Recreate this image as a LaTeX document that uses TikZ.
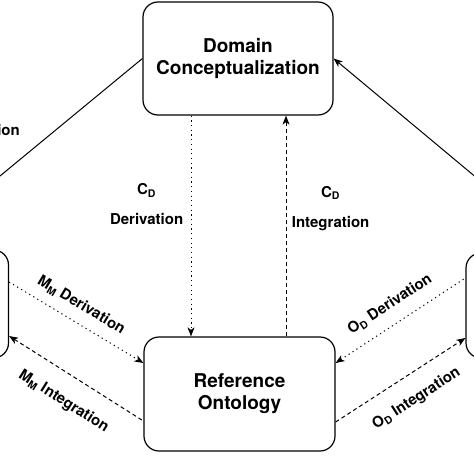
\documentclass[tikz,border=0pt]{standalone}
\usepackage{fontspec}
\setmainfont{TeX Gyre Heros}
\usetikzlibrary{arrows.meta}
\begin{document}
\begin{tikzpicture}[x=1pt,y=1pt,box/.style={draw,line width=1.2pt,rounded corners=15pt,
					align=center,font=\bfseries\fontsize{19}{22}\selectfont},lbl/.style={align=center,
					font=\bfseries\fontsize{15}{18}\selectfont},dots/.style={line width=1pt,
					dash pattern=on 1.2pt off 3.5pt},dashes/.style={line width=1pt,dash pattern=on 4pt off 3pt},
				tipr/.style={-{Stealth[length=9pt,width=7pt,inset=2.5pt]}},
				tipl/.style={{Stealth[length=9pt,width=7pt,inset=2.5pt]}-}]
		\useasboundingbox (0,0) rectangle (474,-474);
		\clip (0,0) rectangle (474,-474);
		\node[box,minimum width=190pt,minimum height=113pt] (dc) at (238,-58.5) {Domain\\Conceptualization};
		\node[box,minimum width=191pt,minimum height=114pt] (ro) at (239.5,-394) {Reference\\Ontology};
		\node[box,minimum width=190pt,minimum height=108pt] (mm) at (-86.5,-304) {};
		\node[box,minimum width=190pt,minimum height=105pt] (od) at (561,-305.5) {};
		\coordinate (tl) at (-40,-209);
		\coordinate (tr) at (514,-209);
		\node[lbl,anchor=base east,inner sep=0pt] (cut) at (20,-135) {ion};
		% top box
		\draw[line width=1pt] (dc.west) -- (tl);
		\draw[line width=1pt,tipr] (tr) -- (dc.east);
		\draw[dots,tipr] ([xshift=-47pt]dc.south) -- node[lbl,left=4pt,pos=0.4]
			{C\textsubscript{D}\\[12pt]Derivation} ([xshift=-48.5pt]ro.north);
		\draw[dashes,tipr] ([xshift=46.5pt]ro.north) -- node[lbl,right=2pt,pos=0.58]
			{C\textsubscript{D}\\[12pt]Integration} ([xshift=48pt]dc.south);
		% left box
		\draw[dots,tipr] ([yshift=22pt]mm.east) -- node[lbl,sloped,above=6.5pt,pos=0.47]
			{M\textsubscript{M} Derivation} ([yshift=31pt]ro.west);
		\draw[dashes,tipl] ([yshift=-32pt]mm.east) -- node[lbl,sloped,below=15pt,pos=0.51]
			{M\textsubscript{M} Integration} ([yshift=-27pt]ro.west);
		% right box
		\draw[dots,tipl] ([yshift=31pt]ro.east) -- node[lbl,sloped,above=8.5pt,pos=0.5]
			{O\textsubscript{D} Derivation} ([yshift=27.5pt]od.west);
		\draw[dashes,tipr] ([yshift=-28pt]ro.east) -- node[lbl,sloped,below=13.5pt,pos=0.52]
			{O\textsubscript{D} Integration} ([yshift=-32.5pt]od.west);
	\end{tikzpicture}
\end{document}
